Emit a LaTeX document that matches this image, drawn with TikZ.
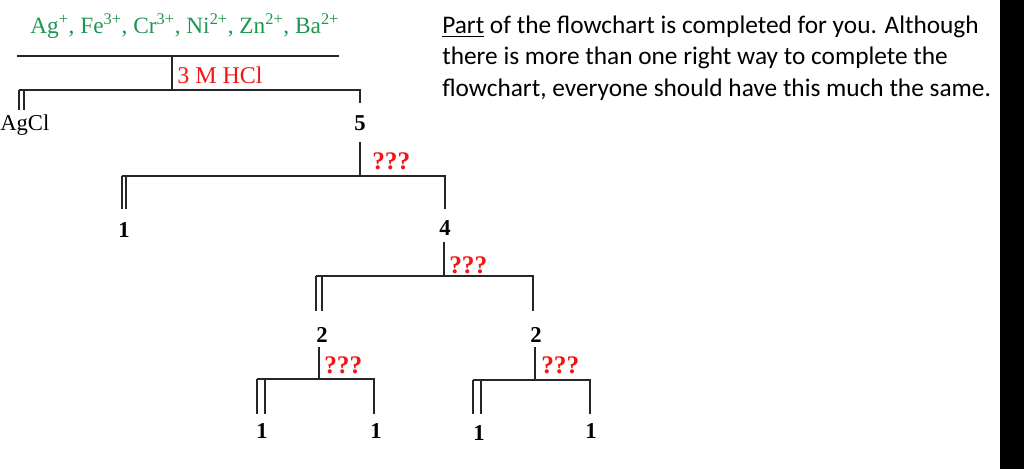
\documentclass[tikz,border=0pt]{standalone}
\usepackage{fontspec}
\setmainfont{Liberation Serif}
\newfontfamily\calib{Carlito}
\definecolor{ionGreen}{RGB}{30,150,80}
\definecolor{reagRed}{RGB}{245,20,20}
\begin{document}
\begin{tikzpicture}[x=0.75pt,y=-0.75pt,
  tline/.style={line width=1.1pt, black!85},
  num/.style={font=\fontsize{17}{20}\selectfont\bfseries, inner sep=0pt, anchor=base},
  qq/.style={font=\fontsize{19}{20}\selectfont\bfseries, text=reagRed, inner sep=0pt, anchor=base west},
  plain/.style={font=\fontsize{17}{20}\selectfont, inner sep=0pt, anchor=base west},
]
\useasboundingbox (0,0) rectangle (1024,469);
\fill[black] (1000,0) rectangle (1024,469);

% texts
\node[plain, font=\fontsize{17.5}{20}\selectfont, text=ionGreen] (ions) at (30,33)
  {Ag\textsuperscript{+}, Fe\textsuperscript{3+}, Cr\textsuperscript{3+}, Ni\textsuperscript{2+}, Zn\textsuperscript{2+}, Ba\textsuperscript{2+}};
\node[plain, font=\fontsize{18}{20}\selectfont, text=reagRed] (hcl) at (177,83) {3 M HCl};
\node[plain] (agcl) at (0,130) {AgCl};
\node[num] (n5) at (360,130) {5};
\node[qq] (q1) at (372,169) {???};
\node[num] (n1a) at (124,237) {1};
\node[num] (n4) at (445,235) {4};
\node[qq] (q2) at (449,273) {???};
\node[num] (n2a) at (322,342) {2};
\node[num] (n2b) at (536,342) {2};
\node[qq] (q3) at (324,373) {???};
\node[qq] (q4) at (541,373) {???};
\node[num] (n1b) at (262,438) {1};
\node[num] (n1c) at (376,438) {1};
\node[num] (n1d) at (479,440) {1};
\node[num] (n1e) at (591,438) {1};

\node[inner sep=0pt, anchor=base west, align=left,
  font=\calib\fontsize{19}{23.3}\selectfont] (note) at (442,96)
  {\underline{Part} of the flowchart is completed for you. Although\\
   there is more than one right way to complete the\\
   flowchart, everyone should have this much the same.};

% level 0
\coordinate (t0l) at (17,56); \coordinate (t0r) at (339,56);
\coordinate (t0m) at (172,56); \coordinate (b0m) at (172,90);
\coordinate (b0l) at (19,90); \coordinate (b0r) at (360,90);
\draw[tline] (t0l) -- (t0r);
\draw[tline] (t0m) -- (b0m);
\draw[tline] (b0l) -- (b0r) -- (360,103);
\draw[tline] (b0l) -- (19,110);
\draw[tline] (24,90) -- (24,110);

% level 1
\coordinate (s1) at (360,142); \coordinate (j1) at (360,176);
\coordinate (b1l) at (122,176); \coordinate (b1r) at (445,176);
\draw[tline] (s1) -- (j1);
\draw[tline] (b1l) -- (b1r) -- (445,209);
\draw[tline] (b1l) -- (122,209);
\draw[tline] (126,176) -- (126,209);

% level 2
\coordinate (s2) at (444,242); \coordinate (j2) at (444,276);
\coordinate (b2l) at (316,276); \coordinate (b2r) at (533,276);
\draw[tline] (s2) -- (j2);
\draw[tline] (b2l) -- (b2r) -- (533,311);
\draw[tline] (b2l) -- (316,311);
\draw[tline] (322,276) -- (322,311);

% level 3 left
\coordinate (s3) at (319,347); \coordinate (j3) at (319,379);
\coordinate (b3l) at (257,379); \coordinate (b3r) at (374,379);
\draw[tline] (s3) -- (j3);
\draw[tline] (b3l) -- (b3r) -- (374,414);
\draw[tline] (b3l) -- (257,414);
\draw[tline] (265,379) -- (265,414);

% level 3 right
\coordinate (s4) at (535,347); \coordinate (j4) at (535,380);
\coordinate (b4l) at (473,380); \coordinate (b4r) at (590,380);
\draw[tline] (s4) -- (j4);
\draw[tline] (b4l) -- (b4r) -- (590,414);
\draw[tline] (b4l) -- (473,414);
\draw[tline] (481,380) -- (481,414);
\end{tikzpicture}
\end{document}
